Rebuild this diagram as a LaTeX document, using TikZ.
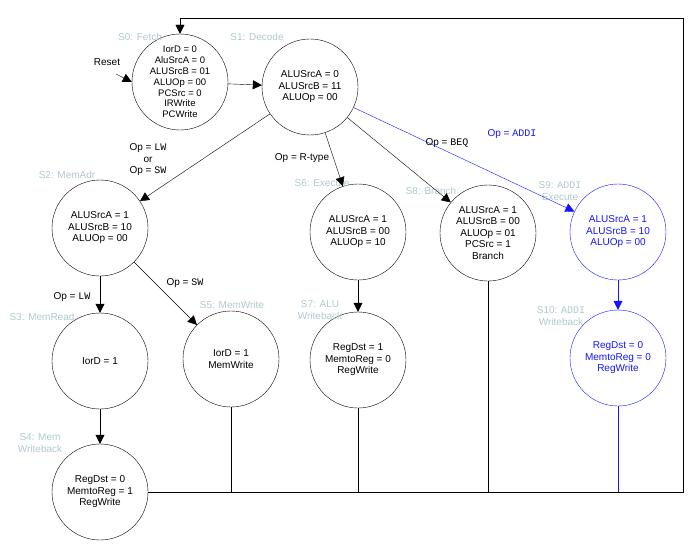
\documentclass[tikz,border=0pt]{standalone}
\usepackage{fontspec}
\setmainfont{Liberation Sans}
\newfontfamily\cmono{Liberation Mono}
\usetikzlibrary{arrows.meta}
\definecolor{lbl}{RGB}{175,200,205}
\definecolor{myblue}{RGB}{20,20,255}
\newcommand{\cw}[1]{{\cmono #1}}
\begin{document}
\begin{tikzpicture}[x=1pt,y=-1pt,font=\fontsize{10}{11.5}\selectfont,
  st/.style={circle,draw,minimum size=96pt,inner sep=0pt,align=center},
  bst/.style={st,draw=myblue,text=myblue},
  sl/.style={text=lbl,align=center,inner sep=0pt},
  arr/.style={-{Triangle[length=9pt,width=9pt]}},
  el/.style={align=center,inner sep=1pt}]
\useasboundingbox (0,0) rectangle (692,545);
\node[st,font=\fontsize{9.5}{10.8}\selectfont] (s0) at (180,82) {IorD = 0\\AluSrcA = 0\\ALUSrcB = 01\\ALUOp = 00\\PCSrc = 0\\IRWrite\\PCWrite};
\node[st] (s1) at (310,87) {ALUSrcA = 0\\ALUSrcB = 11\\ALUOp = 00};
\node[st] (s2) at (100,228) {ALUSrcA = 1\\ALUSrcB = 10\\ALUOp = 00};
\node[st] (s6) at (358,232) {ALUSrcA = 1\\ALUSrcB = 00\\ALUOp = 10};
\node[st] (s8) at (488,233) {ALUSrcA = 1\\ALUSrcB = 00\\ALUOp = 01\\PCSrc = 1\\Branch};
\node[bst] (s9) at (618,232) {ALUSrcA = 1\\ALUSrcB = 10\\ALUOp = 00};
\node[st] (s3) at (100,361) {IorD = 1};
\node[st] (s5) at (231,359) {IorD = 1\\MemWrite};
\node[st] (s7) at (358,360) {RegDst = 1\\MemtoReg = 0\\RegWrite};
\node[bst] (s10) at (618,358) {RegDst = 0\\MemtoReg = 0\\RegWrite};
\node[st] (s4) at (100,492) {RegDst = 0\\MemtoReg = 1\\RegWrite};
% state labels
\node[sl] at (140,37) {S0: Fetch};
\node[sl] at (257,37) {S1: Decode};
\node[sl] at (67,175) {S2: MemAdr};
\node[sl] at (322,183) {S6: Execute};
\node[sl] at (431,191) {S8: Branch};
\node[sl] at (560,191) {S9: \cw{ADDI}\\Execute};
\node[sl] at (42,317) {S3: MemRead};
\node[sl] at (232,305) {S5: MemWrite};
\node[sl] at (320,310) {S7: ALU\\Writeback};
\node[sl] at (561,316) {S10: \cw{ADDI}\\Writeback};
\node[sl] at (40,443) {S4: Mem\\Writeback};
% reset
\node[el] (reset) at (107,62) {Reset};
\coordinate (r0) at (116,74);
\draw[arr] (r0) -- (s0.west);
% edges
\draw[arr] (s0) -- (s1);
\draw[arr] (s1) -- (s2);
\node[el] at (148,160) {Op = \cw{LW}\\or\\Op = \cw{SW}};
\draw[arr] (s1) -- (s6);
\node[el] at (302,158) {Op = R-type};
\draw[arr] (s1) -- (s8);
\node[el] at (447,143) {Op = \cw{BEQ}};
\draw[arr,myblue] (s1) -- (s9);
\node[el,text=myblue] at (512,134) {Op = \cw{ADDI}};
\draw[arr] (s2) -- (s3);
\node[el] at (72,297) {Op = \cw{LW}};
\draw[arr] (s2) -- (s5);
\node[el] at (185,283) {Op = \cw{SW}};
\draw[arr] (s6) -- (s7);
\draw[arr,myblue] (s9) -- (s10);
\draw[arr] (s3) -- (s4);
% return paths
\coordinate (c1) at (683,492);
\coordinate (c2) at (683,18);
\coordinate (c3) at (180,18);
\draw[arr] (s4.east) -- (c1) -- (c2) -- (c3) -- (s0.north);
\draw (s5.south) -- (s5.south |- c1);
\draw (s7.south) -- (s7.south |- c1);
\draw (s8.south) -- (s8.south |- c1);
\draw[myblue] (s10.south) -- (s10.south |- c1);
\end{tikzpicture}
\end{document}
